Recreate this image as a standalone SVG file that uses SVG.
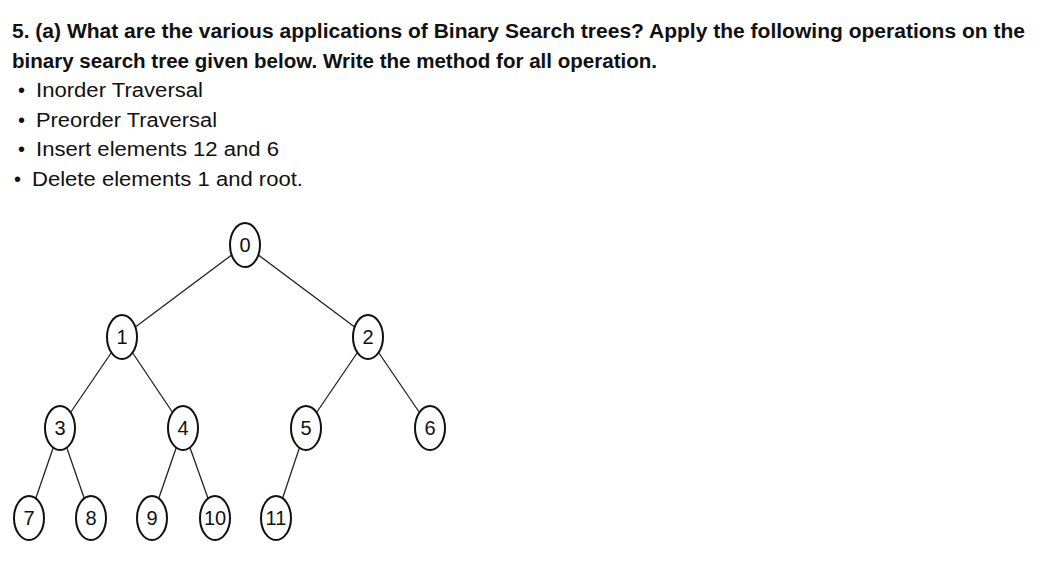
<svg xmlns="http://www.w3.org/2000/svg" width="1058" height="565" viewBox="0 0 1058 565">
<style>
.h{font-family:"Liberation Sans",Arial,sans-serif;font-weight:bold;font-size:20px;fill:#111}
.b{font-family:"Liberation Sans",Arial,sans-serif;font-size:20px;fill:#111}
.n ellipse{fill:#fff;stroke:#111;stroke-width:2}
.n text{font-family:"Liberation Sans Narrow","Liberation Sans",Arial,sans-serif;font-size:20px;text-anchor:middle;fill:#111}
#edges line{stroke:#222;stroke-width:1.3}
</style>
<rect width="1058" height="565" fill="#fff"/>
<text class="h" x="12" y="38" textLength="1013" lengthAdjust="spacingAndGlyphs">5. (a) What are the various applications of Binary Search trees? Apply the following operations on the</text>
<text class="h" x="12" y="68" textLength="645" lengthAdjust="spacingAndGlyphs">binary search tree given below. Write the method for all operation.</text>
<text class="b" x="18" y="97">•</text><text class="b" x="36" y="97" textLength="167" lengthAdjust="spacingAndGlyphs">Inorder Traversal</text>
<text class="b" x="18" y="127">•</text><text class="b" x="36" y="127" textLength="181" lengthAdjust="spacingAndGlyphs">Preorder Traversal</text>
<text class="b" x="18" y="156">•</text><text class="b" x="36" y="156" textLength="243" lengthAdjust="spacingAndGlyphs">Insert elements 12 and 6</text>
<text class="b" x="14" y="186">•</text><text class="b" x="32" y="186" textLength="271" lengthAdjust="spacingAndGlyphs">Delete elements 1 and root.</text>
<g id="edges">
<line x1="245" y1="245" x2="122" y2="337"/><line x1="245" y1="245" x2="368" y2="337"/>
<line x1="122" y1="337" x2="60" y2="428"/><line x1="122" y1="337" x2="183" y2="428"/>
<line x1="368" y1="337" x2="306" y2="428"/><line x1="368" y1="337" x2="430" y2="428"/>
<line x1="60" y1="428" x2="29" y2="518"/><line x1="60" y1="428" x2="91" y2="518"/>
<line x1="183" y1="428" x2="152" y2="518"/><line x1="183" y1="428" x2="215" y2="518"/>
<line x1="306" y1="428" x2="276" y2="518"/>
</g>
<g id="n0" class="n"><ellipse cx="245" cy="245" rx="15" ry="22"/><text x="245" y="252">0</text></g>
<g id="n1" class="n"><ellipse cx="122" cy="337" rx="15" ry="22"/><text x="122" y="344">1</text></g>
<g id="n2" class="n"><ellipse cx="368" cy="337" rx="15" ry="22"/><text x="368" y="344">2</text></g>
<g id="n3" class="n"><ellipse cx="60" cy="428" rx="15" ry="22"/><text x="60" y="435">3</text></g>
<g id="n4" class="n"><ellipse cx="183" cy="428" rx="15" ry="22"/><text x="183" y="435">4</text></g>
<g id="n5" class="n"><ellipse cx="306" cy="428" rx="15" ry="22"/><text x="306" y="435">5</text></g>
<g id="n6" class="n"><ellipse cx="430" cy="428" rx="15" ry="22"/><text x="430" y="435">6</text></g>
<g id="n7" class="n"><ellipse cx="29" cy="518" rx="15" ry="22"/><text x="29" y="525">7</text></g>
<g id="n8" class="n"><ellipse cx="91" cy="518" rx="15" ry="22"/><text x="91" y="525">8</text></g>
<g id="n9" class="n"><ellipse cx="152" cy="518" rx="15" ry="22"/><text x="152" y="525">9</text></g>
<g id="n10" class="n"><ellipse cx="215" cy="518" rx="15" ry="22"/><text x="215" y="525">10</text></g>
<g id="n11" class="n"><ellipse cx="276" cy="518" rx="15" ry="22"/><text x="276" y="525">11</text></g>
</svg>
